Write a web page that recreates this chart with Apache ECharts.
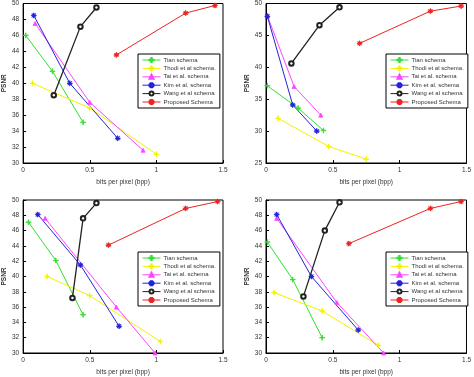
<!DOCTYPE html>
<html>
<head>
<meta charset="utf-8">
<script src="https://cdn.jsdelivr.net/npm/echarts@6/dist/echarts.min.js"></script>
<style>
  html, body { margin: 0; padding: 0; background: #fff; }
  #chart { width: 474px; height: 377px; }
</style>
</head>
<body>
<div id="chart"></div>
<script>
// series names, same in all four panels
var names = ['Tian schema', 'Thodi et al schema.', 'Tai et al. schema', 'Kim et al. schema', 'Wang et al schema', 'Proposed Schema'];

// [bpp, PSNR] per panel (top-left, top-right, bottom-left, bottom-right)
var tian = [
    [[0.02, 46.0], [0.22, 41.5], [0.45, 35.1]],
    [[0.01, 37.1], [0.24, 33.6], [0.43, 30.1]],
    [[0.04, 47.1], [0.245, 42.1], [0.45, 35.0]],
    [[0.01, 44.5], [0.20, 39.6], [0.42, 32.0]]
];
var thodi = [
    [[0.07, 40.0], [0.50, 36.9], [1.00, 31.1]],
    [[0.09, 32.0], [0.47, 27.6], [0.75, 25.6]],
    [[0.18, 40.0], [0.50, 37.5], [1.03, 31.5]],
    [[0.06, 37.9], [0.42, 35.5], [0.84, 31.0]]
];
var tai = [
    [[0.09, 47.5], [0.50, 37.6], [0.90, 31.6]],
    [[0.01, 48.1], [0.21, 37.0], [0.41, 32.5]],
    [[0.165, 47.6], [0.70, 36.0], [0.99, 30.0]],
    [[0.08, 47.6], [0.53, 36.6], [0.88, 30.0]]
];
var kim = [
    [[0.08, 48.5], [0.35, 40.0], [0.71, 33.1]],
    [[0.01, 48.0], [0.20, 34.1], [0.38, 30.0]],
    [[0.11, 48.1], [0.43, 41.5], [0.72, 33.5]],
    [[0.08, 48.1], [0.34, 40.0], [0.69, 33.0]]
];
var wang = [
    [[0.23, 38.5], [0.43, 47.1], [0.55, 49.5]],
    [[0.19, 40.6], [0.40, 46.6], [0.55, 49.4]],
    [[0.37, 37.2], [0.45, 47.6], [0.55, 49.6]],
    [[0.28, 37.4], [0.44, 46.0], [0.55, 49.7]]
];
var proposed = [
    [[0.70, 43.55], [1.22, 48.8], [1.44, 49.75]],
    [[0.70, 43.75], [1.23, 48.8], [1.46, 49.6]],
    [[0.64, 44.1], [1.22, 48.9], [1.46, 49.8]],
    [[0.62, 44.3], [1.23, 48.9], [1.46, 49.8]]
];

// y ranges per panel
var yMin = [30, 25, 30, 30];
var yStep = [2, 5, 2, 2];
var xTicks = [0, 0.5, 1, 1.5];

var colors = ['#33dd33', '#f2f200', '#ff44ff', '#2222dd', '#222222', '#ee2222'];
var plus = 'path://M-1,-0.1H1V0.1H-1Z M-0.1,-1H0.1V1H-0.1Z';
var star = 'path://M-1,-0.1H1V0.1H-1Z M-0.1,-1H0.1V1H-0.1Z M-0.76,-0.64L-0.64,-0.76L0.76,0.64L0.64,0.76Z M0.64,-0.76L0.76,-0.64L-0.64,0.76L-0.76,0.64Z';
var symbols = [plus, plus, 'triangle', star, 'emptyCircle', star];
var symbolSizes = [5, 5, 4, 5, 4.5, 5];
var allData = [tian, thodi, tai, kim, wang, proposed];

var grids = [
    { left: 18, top: 1, width: 205, height: 162 },
    { left: 266, top: 1, width: 203, height: 162 },
    { left: 18, top: 200, width: 205, height: 159 },
    { left: 266, top: 200, width: 203, height: 159 }
];
var legendPos = [
    { left: 138, top: 54 },
    { left: 386, top: 54 },
    { left: 138, top: 252 },
    { left: 386, top: 252 }
];

var labelStyle = { fontFamily: 'Liberation Sans', fontSize: 6.5, color: '#333' };

var option = {
    animation: false,
    backgroundColor: '#fff',
    grid: [],
    xAxis: [],
    yAxis: [],
    legend: [],
    series: []
};

for (var p = 0; p < 4; p++) {
    var g = grids[p];
    option.grid.push({
        left: g.left, top: g.top, width: g.width, height: g.height,
        show: true, borderColor: '#000', borderWidth: 1, backgroundColor: '#fff'
    });
    option.xAxis.push({
        gridIndex: p, type: 'value', min: 0, max: 1.5, interval: 0.5,
        name: 'bits per pixel (bpp)', nameLocation: 'middle', nameGap: 16,
        nameTextStyle: labelStyle,
        axisLine: { lineStyle: { color: '#000', width: 1 } },
        axisTick: { inside: true, length: 3, lineStyle: { color: '#000' } },
        axisLabel: {
            fontFamily: 'Liberation Sans', fontSize: 6.5, color: '#333', margin: 4,
            formatter: function (v) { return xTicks.indexOf(v) >= 0 ? String(v) : ''; }
        },
        splitLine: { show: false }
    });
    option.yAxis.push({
        gridIndex: p, type: 'value', min: yMin[p], max: 50, interval: yStep[p],
        name: 'PSNR', nameLocation: 'middle', nameGap: 11,
        nameTextStyle: { fontFamily: 'Liberation Sans', fontSize: 6.5, color: '#333', fontWeight: 'bold' },
        axisLine: { lineStyle: { color: '#000', width: 1 } },
        axisTick: { inside: true, length: 3, lineStyle: { color: '#000' } },
        axisLabel: { fontFamily: 'Liberation Sans', fontSize: 6.5, color: '#333', margin: 4 },
        splitLine: { show: false }
    });
    option.legend.push({
        left: legendPos[p].left, top: legendPos[p].top,
        orient: 'vertical', data: names,
        backgroundColor: '#fff', borderColor: '#000', borderWidth: 1,
        padding: [3, 4, 3, 4], itemGap: 2.4, itemWidth: 18, itemHeight: 5,
        lineStyle: { width: 1 },
        textStyle: { fontFamily: 'Liberation Sans', fontSize: 6, color: '#333', padding: [0, 0, 0, -2] },
        selectedMode: false
    });
    for (var s = 0; s < names.length; s++) {
        option.series.push({
            name: names[s], type: 'line',
            xAxisIndex: p, yAxisIndex: p,
            data: allData[s][p],
            color: colors[s],
            symbol: symbols[s], symbolSize: symbolSizes[s],
            showAllSymbol: true,
            lineStyle: { color: colors[s], width: s === 4 ? 1.3 : 1 },
            itemStyle: { color: colors[s], borderColor: colors[s], borderWidth: 0.8 },
            clip: true
        });
    }
}

var myChart = echarts.init(document.getElementById('chart'), null, { renderer: 'canvas' });
myChart.setOption(option);
</script>
</body>
</html>
